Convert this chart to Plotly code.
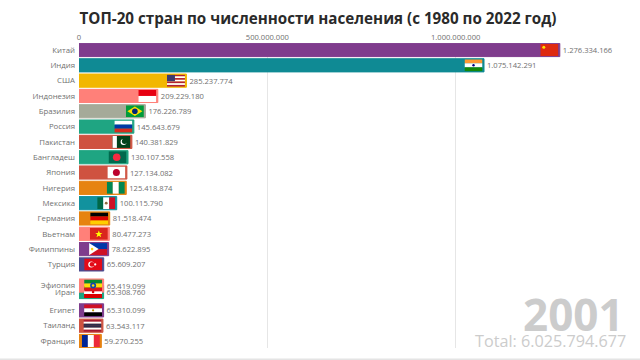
import base64
import plotly.graph_objects as go

title = "ТОП-20 стран по численности населения (с 1980 по 2022 год)"
year = "2001"
total = 6025794677

countries = ["Китай", "Индия", "США", "Индонезия", "Бразилия", "Россия", "Пакистан", "Бангладеш",
             "Япония", "Нигерия", "Мексика", "Германия", "Вьетнам", "Филиппины", "Турция",
             "Иран", "Эфиопия", "Египет", "Таиланд", "Франция"]
population = [1276334166, 1075142291, 285237774, 209229180, 176226789, 145643679, 140381829, 130107558,
              127134082, 125418874, 100115790, 81518474, 80477273, 78622895, 65609207,
              65308760, 65419099, 65310099, 63543117, 59270255]
rank = [1, 2, 3, 4, 5, 6, 7, 8, 9, 10, 11, 12, 13, 14, 15, 16.8, 16.38, 18, 19, 20]
colors = ["#7F3C8D", "#0F8A94", "#F2B701", "#FF8079", "#A5AA99", "#1FA582", "#CF5240", "#1FA582",
          "#CF5240", "#E68310", "#12929E", "#E68310", "#FF8079", "#7F3C8D", "#4B4B8F",
          "#1FA582", "#FF8079", "#7F3C8D", "#CF5240", "#E68310"]
x_ticks = [0, 500000000, 1000000000]


def stripes(cols, vertical=False):
    n = len(cols)
    out = ""
    for i, c in enumerate(cols):
        if vertical:
            out += f'<rect x="{18*i/n}" y="0" width="{18/n + .1}" height="12" fill="{c}"/>'
        else:
            out += f'<rect x="0" y="{12*i/n}" width="18" height="{12/n + .1}" fill="{c}"/>'
    return out


FLAGS = {
    "Китай": '<rect width="18" height="12" fill="#DE2910"/><circle cx="3.5" cy="3.2" r="1.5" fill="#FFDE00"/>',
    "Индия": stripes(["#FF9933", "#FFFFFF", "#138808"]) + '<circle cx="9" cy="6" r="1.2" fill="#000080"/>',
    "США": stripes(["#B22234", "#FFFFFF"] * 3 + ["#B22234"]) + '<rect width="8" height="6.6" fill="#3C3B6E"/>',
    "Индонезия": stripes(["#E70011", "#FFFFFF"]),
    "Бразилия": '<rect width="18" height="12" fill="#009B3A"/><polygon points="9,1.2 16.5,6 9,10.8 1.5,6" fill="#FEDF00"/><circle cx="9" cy="6" r="2.8" fill="#002776"/>',
    "Россия": stripes(["#FFFFFF", "#0039A6", "#D52B1E"]),
    "Пакистан": '<rect width="18" height="12" fill="#01411C"/><rect width="4.5" height="12" fill="#FFFFFF"/><circle cx="11.2" cy="6" r="3" fill="#FFFFFF"/><circle cx="12.2" cy="5.4" r="2.7" fill="#01411C"/>',
    "Бангладеш": '<rect width="18" height="12" fill="#006A4E"/><circle cx="8.2" cy="6" r="3.8" fill="#F42A41"/>',
    "Япония": '<rect width="18" height="12" fill="#FFFFFF"/><circle cx="9" cy="6" r="3.5" fill="#BC002D"/>',
    "Нигерия": stripes(["#008751", "#FFFFFF", "#008751"], True),
    "Мексика": stripes(["#006847", "#FFFFFF", "#CE1126"], True) + '<circle cx="9" cy="6" r="1.4" fill="#8C6A3F"/>',
    "Германия": stripes(["#000000", "#DD0000", "#FFCE00"]),
    "Вьетнам": '<rect width="18" height="12" fill="#DA251D"/><polygon points="9,2.6 10,5.1 12.6,5.1 10.5,6.8 11.3,9.4 9,7.9 6.7,9.4 7.5,6.8 5.4,5.1 8,5.1" fill="#FFFF00"/>',
    "Филиппины": stripes(["#0038A8", "#CE1126"]) + '<polygon points="0,0 9.5,6 0,12" fill="#FFFFFF"/><circle cx="3" cy="6" r="1.3" fill="#FCD116"/>',
    "Турция": '<rect width="18" height="12" fill="#E30A17"/><circle cx="7" cy="6" r="3" fill="#FFFFFF"/><circle cx="7.8" cy="6" r="2.4" fill="#E30A17"/><circle cx="11" cy="6" r="1.1" fill="#FFFFFF"/>',
    "Иран": stripes(["#239F40", "#FFFFFF", "#DA0000"]) + '<circle cx="9" cy="6" r="1.3" fill="#DA0000"/>',
    "Эфиопия": stripes(["#078930", "#FCDD09", "#DA121A"]) + '<circle cx="9" cy="6" r="3" fill="#0F47AF"/><circle cx="9" cy="6" r="1.3" fill="#FCDD09"/>',
    "Египет": stripes(["#CE1126", "#FFFFFF", "#000000"]) + '<circle cx="9" cy="6" r="1.1" fill="#C09300"/>',
    "Таиланд": stripes(["#A51931", "#FFFFFF", "#2D2A4A", "#2D2A4A", "#FFFFFF", "#A51931"]),
    "Франция": stripes(["#002395", "#FFFFFF", "#ED2939"], True),
}


def data_uri(svg_body):
    svg = f'<svg xmlns="http://www.w3.org/2000/svg" viewBox="0 0 18 12" preserveAspectRatio="none" width="180" height="120">{svg_body}</svg>'
    return "data:image/svg+xml;base64," + base64.b64encode(svg.encode("utf-8")).decode()


def dotted(v):
    return f"{v:,}".replace(",", ".")


W, H = 640, 360
ML, MT, MB = 79, 43, 12
PX_PER_UNIT = 376.7 / 1e9
PX_PER_RANK = 15.316
xmax = (W - ML) / PX_PER_UNIT
y_top = 1 - (50 - MT) / PX_PER_RANK
y_bot = 1 + (H - MB - 50) / PX_PER_RANK

fig = go.Figure(go.Bar(
    x=population, y=rank, orientation="h", width=0.86,
    marker=dict(color=colors, line=dict(color=colors, width=1)),
    text=[dotted(v) for v in population], textposition="outside",
    textfont=dict(family="Open Sans", size=7.6, color="#707070"),
    constraintext="none", cliponaxis=False, hoverinfo="skip",
))

images = []
for name, v, r in zip(countries, population, rank):
    images.append(dict(
        source=data_uri(FLAGS[name]), xref="x", yref="y",
        x=v - 1.5 / PX_PER_UNIT, y=r,
        sizex=18 / PX_PER_UNIT, sizey=12 / PX_PER_RANK,
        xanchor="right", yanchor="middle", sizing="stretch", layer="above",
    ))

plot_h = H - MT - MB
fig.update_layout(
    width=W, height=H, margin=dict(l=ML, r=0, t=MT, b=MB, pad=0, autoexpand=False),
    paper_bgcolor="#FFFFFF", plot_bgcolor="#FFFFFF", showlegend=False,
    title=dict(text=f"<b>{title}</b>", x=318 / W, xanchor="center", y=1 - 19 / H, yanchor="middle",
               font=dict(family="Open Sans", size=15.2, color="#2A2A2A")),
    xaxis=dict(side="top", range=[0, xmax], tickvals=x_ticks,
               ticktext=[dotted(v) for v in x_ticks], showgrid=True, gridcolor="#E6E6E6", gridwidth=1,
               zeroline=False, showline=False, ticks="",
               tickfont=dict(family="Open Sans", size=7.6, color="#707070")),
    yaxis=dict(range=[y_bot, y_top], tickvals=rank, ticktext=countries, showgrid=False, zeroline=False,
               showline=False, ticks="", ticklabelstandoff=3,
               tickfont=dict(family="Open Sans", size=7.8, color="#707070")),
    images=images,
    shapes=[dict(type="rect", xref="paper", yref="paper", x0=-ML / (W - ML), x1=1,
                 y0=-MB / plot_h, y1=-10.5 / plot_h, fillcolor="#E4E4E4", line=dict(width=0), layer="below")],
    annotations=[
        dict(text=f"<b>{year}</b>", xref="paper", yref="paper", x=(626 - ML) / (W - ML), xanchor="right",
             y=(H - MB - 314) / plot_h, yanchor="middle", showarrow=False,
             font=dict(family="Open Sans", size=44, color="#CCCCCC")),
        dict(text=f"Total: {dotted(total)}", xref="paper", yref="paper", x=(628 - ML) / (W - ML), xanchor="right",
             y=(H - MB - 341) / plot_h, yanchor="middle", showarrow=False,
             font=dict(family="Open Sans", size=16.2, color="#CCCCCC")),
    ],
)

fig.write_html("out.html", config={"displayModeBar": False}, post_script="document.body.style.margin='0';")
